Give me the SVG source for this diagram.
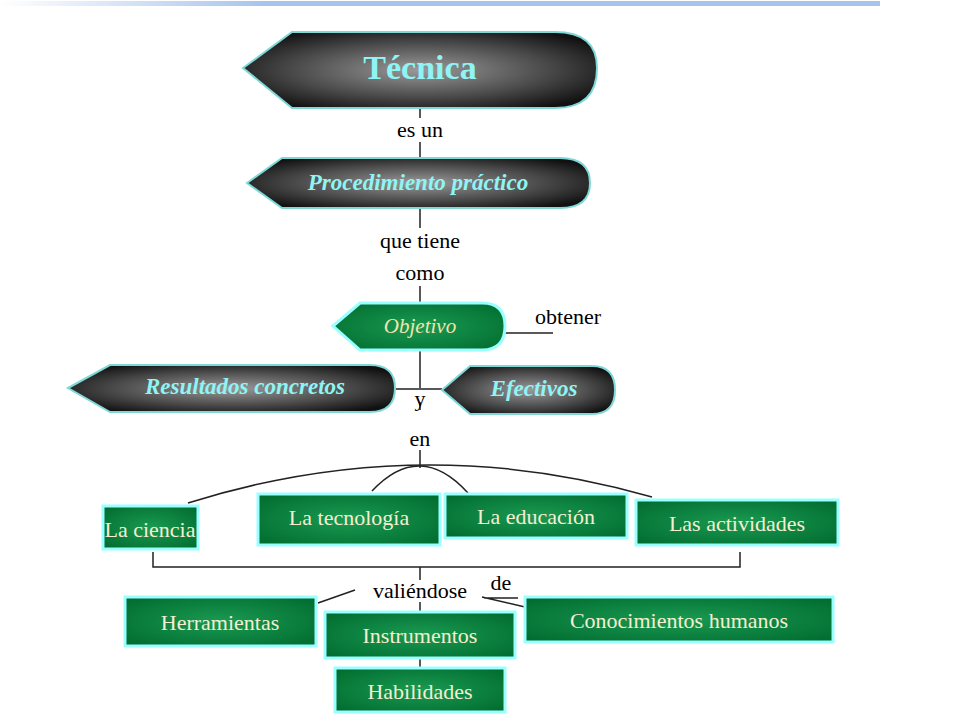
<svg xmlns="http://www.w3.org/2000/svg" width="954" height="728" viewBox="0 0 954 728">
<defs>
<linearGradient id="bar" x1="0" x2="1"><stop offset="0" stop-color="#fff"/><stop offset="0.3" stop-color="#a8c4ec"/><stop offset="1" stop-color="#a8c4ec"/></linearGradient>
<radialGradient id="dark" cx="0.5" cy="0.5" r="0.6"><stop offset="0" stop-color="#9a9a9a"/><stop offset="0.6" stop-color="#4a4a4a"/><stop offset="1" stop-color="#111"/></radialGradient>
<radialGradient id="grn" cx="0.5" cy="0.5" r="0.7"><stop offset="0" stop-color="#1a9a52"/><stop offset="1" stop-color="#006a2e"/></radialGradient>
<style>
.dk{fill:url(#dark);stroke:#7fd8d8;stroke-width:2}
.gr{fill:url(#grn);stroke:#9ff;stroke-width:3}
.ln{fill:none;stroke:#222;stroke-width:1.5}
.t{font-family:"Liberation Serif",serif;text-anchor:middle}
.lab{font-size:22px;fill:#000}
.ci{font-size:23px;font-style:italic;font-weight:bold;fill:#8ff4f4}
.bx{font-size:22px;fill:#f5efd2}
</style>
</defs>
<rect width="954" height="728" fill="#fff"/>
<rect x="0" y="1" width="880" height="5" fill="url(#bar)"/>
<g id="connectors">
<path class="ln" d="M420 108V118M420 142V158M420 208V228M420 286V303M420 350V388M396 389H442M420 402V410M420 450V468"/>
<path class="ln" d="M505 333H553"/>
<path class="ln" d="M188 503Q420 430 652 497"/>
<path class="ln" d="M372 491Q420 440 468 493"/>
<path class="ln" d="M153 552V567H740V552M420 567V580M420 602V612M420 658V668"/>
<path class="ln" d="M318 603L355 590M482 597L525 607M484 598H518"/>
</g>
<g id="tecnica"><path class="dk" d="M243 68L292 32H555Q597 32 597 68Q597 108 555 108H292Z"/><text class="t" x="420" y="79" style="font-size:34px;font-weight:bold;fill:#8ff4f4">Técnica</text></g>
<text class="t lab" x="420" y="137">es un</text>
<g id="procedimiento"><path class="dk" d="M247 183L282 158H560Q590 158 590 183Q590 208 560 208H282Z"/><text class="t ci" x="418" y="190">Procedimiento práctico</text></g>
<text class="t lab" x="420" y="248">que tiene</text>
<text class="t lab" x="420" y="280">como</text>
<g id="objetivo"><path class="gr" d="M333 326L360 303H482Q505 303 505 326Q505 350 482 350H360Z"/><text class="t" x="420" y="333" style="font-size:21px;font-style:italic;fill:#f0e6b0">Objetivo</text></g>
<text class="t lab" x="568" y="324">obtener</text>
<g id="resultados"><path class="dk" d="M68 388L110 365H370Q395 365 395 388Q395 412 370 412H110Z"/><text class="t ci" x="245" y="394">Resultados concretos</text></g>
<g id="efectivos"><path class="dk" d="M442 390L470 366H592Q615 366 615 390Q615 414 592 414H470Z"/><text class="t ci" x="534" y="396">Efectivos</text></g>
<text class="t lab" x="420" y="406">y</text>
<text class="t lab" x="420" y="446">en</text>
<g id="ciencia"><rect class="gr" x="103" y="506" width="95" height="43"/><text class="t bx" x="150" y="537">La ciencia</text></g>
<g id="tecnologia"><rect class="gr" x="258" y="494" width="182" height="51"/><text class="t bx" x="349" y="525">La tecnología</text></g>
<g id="educacion"><rect class="gr" x="445" y="494" width="182" height="44"/><text class="t bx" x="536" y="524">La educación</text></g>
<g id="actividades"><rect class="gr" x="636" y="500" width="202" height="45"/><text class="t bx" x="737" y="531">Las actividades</text></g>
<text class="t lab" x="420" y="598">valiéndose</text>
<text class="t lab" x="501" y="590">de</text>
<g id="herramientas"><rect class="gr" x="125" y="597" width="191" height="49"/><text class="t bx" x="220" y="630">Herramientas</text></g>
<g id="instrumentos"><rect class="gr" x="325" y="612" width="190" height="46"/><text class="t bx" x="420" y="643">Instrumentos</text></g>
<g id="conocimientos"><rect class="gr" x="525" y="597" width="308" height="45"/><text class="t bx" x="679" y="628">Conocimientos humanos</text></g>
<g id="habilidades"><rect class="gr" x="335" y="668" width="170" height="44"/><text class="t bx" x="420" y="699">Habilidades</text></g>
</svg>
